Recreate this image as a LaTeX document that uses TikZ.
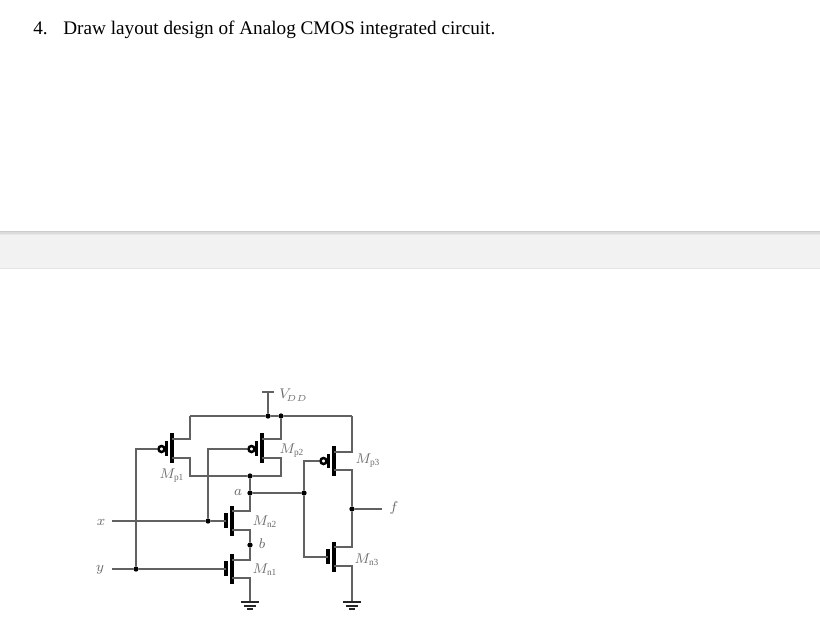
\documentclass[tikz,border=0pt]{standalone}
\usepackage{fontspec}
\setmainfont{Liberation Serif}
\tikzset{
  wire/.style={line width=0.03cm, draw=black!62},
  chan/.style={line width=0.075cm, draw=black},
  plate/.style={line width=0.065cm, draw=black},
  bubble/.style={circle, draw=black, line width=0.05cm, fill=white, inner sep=0pt, minimum size=0.12cm},
  jdot/.style={circle, fill=black, inner sep=0pt, minimum size=0.105cm},
  lab/.style={text=black!58, font=\fontsize{7.6}{9}\selectfont},
  groundbar/.style={line width=0.04cm, draw=black!85}
}
\begin{document}
\begin{tikzpicture}[x=0.02cm, y=-0.02cm]
  \useasboundingbox (0,0) rectangle (820,637);

  % Heading text
  \node (num) [anchor=base west, inner sep=0pt, font=\fontsize{10.93}{13}\selectfont] at (33,34) {4.};
  \node (title) [anchor=base west, inner sep=0pt, font=\fontsize{10.93}{13}\selectfont] at (63,34) {Draw layout design of Analog CMOS integrated circuit.};

  % Grey band
  \fill [black!5] (0,232) rectangle (820,268);
  \draw [line width=0.03cm, black!20] (0,231.5) -- (820,231.5);
  \draw [line width=0.03cm, black!14] (0,233) -- (820,233);
  \draw [line width=0.03cm, black!9] (0,234.5) -- (820,234.5);
  \draw [line width=0.02cm, black!10] (0,268) -- (820,268);

  % Junctions
  \node (jvdd) [jdot] at (268,416) {};
  \node (jtop) [jdot] at (281,416) {};
  \node (jdrain) [jdot] at (250,476) {};
  \node (ja) [jdot] at (250,493) {};
  \node (jgate) [jdot] at (304,493) {};
  \node (jx) [jdot] at (208,521) {};
  \node (jy) [jdot] at (136,569) {};
  \node (jb) [jdot] at (250,545) {};
  \node (jf) [jdot] at (352,509) {};

  % Free ends
  \coordinate (vddtop) at (268,392);
  \coordinate (railleft) at (190,416);
  \coordinate (railright) at (352,416);
  \coordinate (xin) at (112,521);
  \coordinate (yin) at (112,569);
  \coordinate (fout) at (382,509);
  \coordinate (gnda) at (250,602);
  \coordinate (gndb) at (352,602);

  % Transistor Mp1
  \node (gp1) [bubble] at (161.5,449) {};
  \coordinate (sp1) at (172,439);
  \coordinate (dp1) at (172,458);
  \draw [chan] (172,433) -- (172,463);
  \draw [plate] (166.5,441) -- (166.5,456);

  % Transistor Mp2
  \node (gp2) [bubble] at (251.5,449) {};
  \coordinate (sp2) at (262,439);
  \coordinate (dp2) at (262,458);
  \draw [chan] (262,433) -- (262,463);
  \draw [plate] (256.5,441) -- (256.5,456);

  % Transistor Mp3
  \node (gp3) [bubble] at (323.5,461) {};
  \coordinate (sp3) at (334,452);
  \coordinate (dp3) at (334,470);
  \draw [chan] (334,446) -- (334,476);
  \draw [plate] (328.5,454) -- (328.5,468);

  % Transistor Mn2
  \coordinate (gn2) at (226,521);
  \coordinate (dn2) at (232,511);
  \coordinate (sn2) at (232,530);
  \draw [chan] (232,506) -- (232,536);
  \draw [plate] (226,513) -- (226,528);

  % Transistor Mn1
  \coordinate (gn1) at (226,569);
  \coordinate (dn1) at (232,560);
  \coordinate (sn1) at (232,578);
  \draw [chan] (232,554) -- (232,584);
  \draw [plate] (226,561) -- (226,576);

  % Transistor Mn3
  \coordinate (gn3) at (328,557);
  \coordinate (dn3) at (334,547);
  \coordinate (sn3) at (334,566);
  \draw [chan] (334,542) -- (334,572);
  \draw [plate] (328,549) -- (328,564);

  % Supply and top rail
  \draw [wire] (vddtop) -- (jvdd);
  \draw [wire] (262,392) -- (274,392);
  \draw [wire] (railleft) -- (jvdd) -- (jtop) -- (railright);
  \draw [wire] (railleft) |- (sp1);
  \draw [wire] (jtop) |- (sp2);
  \draw [wire] (railright) |- (sp3);

  % Output node of first stage
  \draw [wire] (dp1) -| (190,476) -- (jdrain);
  \draw [wire] (dp2) -| (281,476) -- (jdrain);
  \draw [wire] (jdrain) -- (ja) -- (jgate);
  \draw [wire] (ja) |- (dn2);
  \draw [wire] (jgate) |- (gp3);
  \draw [wire] (jgate) |- (gn3);

  % Inputs
  \draw [wire] (xin) -- (jx) -- (gn2);
  \draw [wire] (yin) -- (jy) -- (gn1);
  \draw [wire] (jy) |- (gp1);
  \draw [wire] (jx) |- (gp2);

  % Series stack and outputs
  \draw [wire] (sn2) -| (jb);
  \draw [wire] (dn1) -| (jb);
  \draw [wire] (sn1) -| (gnda);
  \draw [wire] (dp3) -| (jf);
  \draw [wire] (dn3) -| (jf);
  \draw [wire] (sn3) -| (gndb);
  \draw [wire] (jf) -- (fout);

  % Ground symbols
  \foreach \gx in {250,352} {
    \draw [groundbar] (\gx-9,602) -- (\gx+9,602);
    \draw [groundbar] (\gx-6,605.5) -- (\gx+6,605.5);
    \draw [groundbar] (\gx-3,609) -- (\gx+3,609);
  }

  % Labels
  \node (lvdd) [lab] at (293,395) {$V\!\!\lower1.6pt\hbox{$\scriptstyle DD$}$};
  \node (lp1) [lab] at (172,476) {$M_{\mathrm{p1}}$};
  \node (lp2) [lab] at (292,451) {$M_{\mathrm{p2}}$};
  \node (lp3) [lab] at (368,461) {$M_{\mathrm{p3}}$};
  \node (ln2) [lab] at (265,522) {$M_{\mathrm{n2}}$};
  \node (ln1) [lab] at (265,570) {$M_{\mathrm{n1}}$};
  \node (ln3) [lab] at (367,560) {$M_{\mathrm{n3}}$};
  \node (la) [lab] at (238,492) {$a$};
  \node (lb) [lab] at (262,544) {$b$};
  \node (lx) [lab] at (101,522) {$x$};
  \node (ly) [lab] at (100,570) {$y$};
  \node (lf) [lab] at (394,508) {$f$};
\end{tikzpicture}
\end{document}
